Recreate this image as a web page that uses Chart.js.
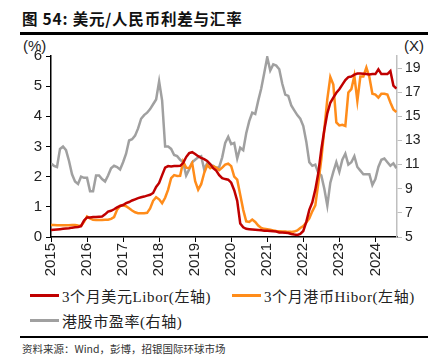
<!DOCTYPE html>
<html>
<head>
<meta charset="utf-8">
<script src="https://cdn.jsdelivr.net/npm/chart.js@4"></script>
<style>
  body { margin: 0; background: #fff; width: 437px; height: 363px; position: relative; overflow: hidden; font-family: "Liberation Sans", Arial, sans-serif; }
  #wrap { position: absolute; left: 0; top: 0; width: 437px; height: 282px; }
  .abs { position: absolute; white-space: nowrap; }
  #title { left: 22px; top: 7px; font: bold 15.5px "Noto Sans CJK SC", sans-serif; letter-spacing: 0.8px; color: #111; }
  .rule { position: absolute; left: 20px; width: 408px; background: #000; }
  .unit { font: 15px "Liberation Sans", Arial, sans-serif; color: #222; top: 37px; }
  .leg { font: 15px "Liberation Serif", "Noto Sans CJK SC", serif; letter-spacing: 0.6px; color: #222; display: flex; align-items: center; }
  .leg span.sw { display: inline-block; width: 29px; height: 3px; margin-right: 3px; }
  #source { left: 22px; top: 341px; font: 10.5px "Noto Sans CJK SC", sans-serif; color: #333; }
</style>
</head>
<body>
<div id="title" class="abs">图 54: 美元/人民币利差与汇率</div>
<div class="rule" style="top:32px;height:3px"></div>
<div class="abs unit" style="left:23px">(%)</div>
<div class="abs unit" style="left:404px">(X)</div>
<div id="wrap"><canvas id="myChart"></canvas></div>
<div id="legend"></div>
<div class="rule" style="top:336px;height:2px"></div>
<div id="source" class="abs">资料来源：Wind，彭博，招银国际环球市场</div>
<script>
// monthly, Jan 2015 - Aug 2024
const months = Array.from({ length: 116 }, (e, i) => {
    const y = 2015 + Math.floor(i / 12);
    const m = (i % 12) + 1;
    return y + '-' + String(m).padStart(2, '0');
});

const yearTicks = [2015, 2016, 2017, 2018, 2019, 2020, 2021, 2022, 2023, 2024];
const leftTicks = [0, 1, 2, 3, 4, 5, 6];
const rightTicks = [5, 7, 9, 11, 13, 15, 17, 19];

const libor = [
    0.23, 0.24, 0.25, 0.26, 0.27, 0.28, 0.29, 0.31, 0.32, 0.33, 0.36, 0.55,
    0.65, 0.65, 0.66, 0.66, 0.67, 0.68, 0.75, 0.84, 0.87, 0.92, 0.98, 1.03,
    1.06, 1.12, 1.16, 1.21, 1.25, 1.29, 1.32, 1.34, 1.37, 1.40, 1.46, 1.66,
    1.79, 2.05, 2.30, 2.35, 2.34, 2.35, 2.35, 2.36, 2.45, 2.65, 2.78, 2.81,
    2.75, 2.68, 2.62, 2.58, 2.52, 2.42, 2.28, 2.20, 2.05, 1.95, 1.92, 1.90,
    1.80, 1.55, 1.20, 0.45, 0.32, 0.27, 0.26, 0.25, 0.24, 0.23, 0.22, 0.21,
    0.21, 0.20, 0.19, 0.18, 0.15, 0.15, 0.14, 0.13, 0.10, 0.08, 0.07, 0.10,
    0.20, 0.50, 0.90, 1.15, 1.57, 2.12, 2.90, 3.55, 4.10, 4.45, 4.62, 4.78,
    4.90, 5.05, 5.20, 5.30, 5.32, 5.38, 5.42, 5.42, 5.41, 5.40, 5.39, 5.40,
    5.40, 5.56, 5.40, 5.40, 5.40, 5.50, 5.02, 4.92
];

const hibor = [
    0.40, 0.40, 0.39, 0.39, 0.39, 0.39, 0.39, 0.40, 0.40, 0.38, 0.37, 0.50,
    0.68, 0.62, 0.57, 0.56, 0.56, 0.56, 0.57, 0.57, 0.60, 0.66, 0.90, 1.03,
    1.05, 1.02, 0.95, 0.88, 0.82, 0.79, 0.79, 0.79, 0.80, 0.95, 1.20, 1.32,
    1.25, 1.12, 1.30, 1.57, 1.95, 2.05, 2.02, 2.03, 2.50, 2.30, 2.28, 2.45,
    1.85, 1.57, 1.75, 2.12, 2.38, 2.28, 2.35, 2.30, 2.22, 2.30, 2.40, 2.43,
    2.35, 2.00, 1.90, 1.40, 0.90, 0.52, 0.50, 0.58, 0.50, 0.38, 0.30, 0.27,
    0.26, 0.24, 0.22, 0.20, 0.19, 0.18, 0.18, 0.17, 0.17, 0.18, 0.22, 0.30,
    0.36, 0.48, 0.62, 0.85, 1.05, 1.79, 2.57, 3.57, 4.57, 5.30, 5.05, 3.80,
    3.70, 3.72, 3.68, 4.79, 4.90, 5.34, 4.51, 5.32, 5.32, 5.62, 5.30, 4.75,
    4.72, 4.62, 4.75, 4.75, 4.72, 4.46, 4.23, 4.14
];

const hkPE = [
    11.1, 10.9, 10.8, 12.3, 12.5, 12.2, 11.3, 10.2, 9.6, 9.4, 10.0, 9.9,
    9.9, 8.8, 8.8, 10.1, 10.1, 9.8, 9.6, 10.1, 10.7, 10.9, 10.8, 10.6,
    11.2, 11.9, 13.0, 13.1, 13.4, 14.0, 14.8, 15.1, 15.3, 15.6, 16.0, 16.4,
    17.9, 16.3, 12.5, 12.5, 12.3, 11.8, 11.7, 11.4, 11.2, 10.1, 10.6, 11.2,
    11.4, 11.6, 11.7, 10.6, 11.1, 11.0, 10.9, 10.7, 10.8, 11.6, 12.8, 13.3,
    12.7, 12.8, 11.5, 12.4, 12.2, 13.6, 14.6, 15.3, 15.2, 16.3, 17.3, 18.6,
    19.9, 18.8, 19.3, 19.2, 18.9, 17.7, 16.8, 16.7, 15.9, 15.5, 15.1, 14.8,
    14.2, 12.9, 11.2, 10.9, 11.0, 10.3, 10.1, 9.0, 7.6, 9.5, 10.4, 11.2,
    10.4, 11.4, 11.9, 11.0, 11.2, 11.7, 10.8, 10.5, 10.2, 10.2, 10.2, 9.3,
    9.8, 10.8, 11.4, 11.5, 11.2, 10.9, 11.1, 10.7
];

const labels = ['3个月美元Libor(左轴)', '3个月港币Hibor(左轴)', '港股市盈率(右轴)'];
const colors = ['#C00000', '#FF8C1A', '#A0A0A0'];

function toXY(values) {
    return values.map((v, i) => {
        const [y, m] = months[i].split('-').map(Number);
        return { x: y + (m - 1) / 12, y: v };
    });
}

const ctx = document.getElementById('myChart');

new Chart(ctx, {
    type: 'line',
    data: {
        datasets: [{
            label: labels[0],
            data: toXY(libor),
            borderColor: colors[0],
            yAxisID: 'y'
        }, {
            label: labels[1],
            data: toXY(hibor),
            borderColor: colors[1],
            yAxisID: 'y'
        }, {
            label: labels[2],
            data: toXY(hkPE),
            borderColor: colors[2],
            yAxisID: 'y1'
        }]
    },
    options: {
        responsive: true,
        maintainAspectRatio: false,
        animation: false,
        layout: { padding: { top: 56, left: 0, right: 0, bottom: 0 } },
        elements: {
            point: { radius: 0 },
            line: { borderWidth: 2.5, tension: 0 }
        },
        plugins: {
            legend: { display: false },
            tooltip: { enabled: false }
        },
        scales: {
            x: {
                type: 'linear',
                min: 2015,
                max: 2024.6,
                afterBuildTicks: (scale) => {
                    scale.ticks = yearTicks.map(v => ({ value: v }));
                },
                afterFit: (scale) => { scale.height = 45; },
                border: { display: true, color: '#000', width: 1.5 },
                grid: { drawOnChartArea: false, color: '#000', tickLength: 5, lineWidth: 1 },
                ticks: {
                    autoSkip: false,
                    minRotation: 90,
                    maxRotation: 90,
                    padding: 1,
                    color: '#222',
                    font: { family: 'Liberation Sans', size: 15 },
                    callback: (v) => String(v)
                }
            },
            y: {
                position: 'left',
                min: 0,
                max: 6,
                afterBuildTicks: (scale) => {
                    scale.ticks = leftTicks.map(v => ({ value: v }));
                },
                afterFit: (scale) => { scale.width = 51; },
                border: { display: true, color: '#000', width: 1.5 },
                grid: { drawOnChartArea: false, color: '#000', tickLength: 5 },
                ticks: {
                    padding: 4,
                    color: '#222',
                    font: { family: 'Liberation Sans', size: 15 }
                }
            },
            y1: {
                position: 'right',
                min: 5,
                max: 20,
                afterBuildTicks: (scale) => {
                    scale.ticks = rightTicks.map(v => ({ value: v }));
                },
                afterFit: (scale) => { scale.width = 40; },
                border: { display: true, color: '#BFBFBF', width: 1.5 },
                grid: { drawOnChartArea: false, color: '#BFBFBF', tickLength: 5 },
                ticks: {
                    padding: 3,
                    color: '#222',
                    font: { family: 'Liberation Sans', size: 14 }
                }
            }
        }
    }
});

// legend rows built from the dataset labels
const legendPos = [[30, 285], [232, 285], [30, 310]];
const legendBox = document.getElementById('legend');
labels.forEach((label, i) => {
    const item = document.createElement('div');
    item.className = 'abs leg';
    item.style.left = legendPos[i][0] + 'px';
    item.style.top = legendPos[i][1] + 'px';
    item.innerHTML = '<span class="sw" style="background:' + colors[i] + '"></span>' + label;
    legendBox.appendChild(item);
});
</script>
</body>
</html>
